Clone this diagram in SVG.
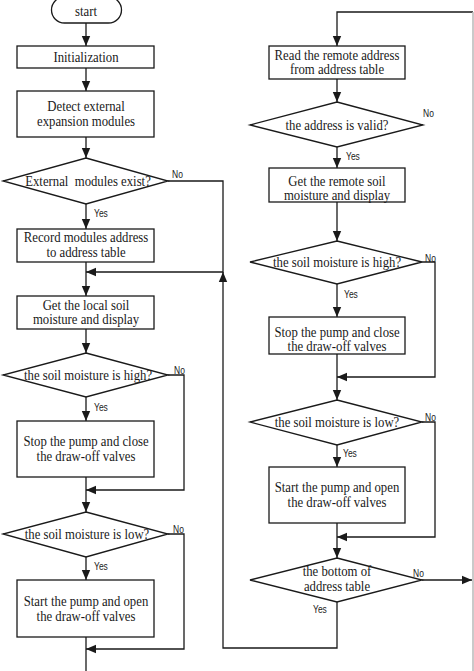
<svg xmlns="http://www.w3.org/2000/svg" width="474" height="671" viewBox="0 0 474 671">
<style>
.n{fill:#fff;stroke:#1a1a1a;stroke-width:1.3}
.c{fill:none;stroke:#1a1a1a;stroke-width:1.3}
.t{font-family:"Liberation Serif","Times New Roman",Times,serif;font-size:15px;fill:#1a1a1a;text-anchor:middle}
.l{font-family:"Liberation Sans",Arial,sans-serif;font-size:10px;fill:#1a1a1a}
</style>
<defs>
<marker id="a" markerUnits="userSpaceOnUse" markerWidth="10" markerHeight="10" viewBox="0 0 10 10" refX="10" refY="5" orient="auto">
<path d="M0,0.8 L10,5 L0,9.2 Z" fill="#1a1a1a"/>
</marker>
</defs>
<rect width="474" height="671" fill="#fff"/>
<g id="connectors">
<path class="c" d="M86 23V46" marker-end="url(#a)"/>
<path class="c" d="M86 68V91" marker-end="url(#a)"/>
<path class="c" d="M86 137V158" marker-end="url(#a)"/>
<path class="c" d="M86 204V229" marker-end="url(#a)"/>
<path class="c" d="M168 181H223V272H86" marker-end="url(#a)"/>
<path class="c" d="M86 262V296" marker-end="url(#a)"/>
<path class="c" d="M337 602V648H223V272" marker-end="url(#a)"/>
<path class="c" d="M86 329V353" marker-end="url(#a)"/>
<path class="c" d="M86 397V421" marker-end="url(#a)"/>
<path class="c" d="M168 375H184V490H86" marker-end="url(#a)"/>
<path class="c" d="M86 477V512" marker-end="url(#a)"/>
<path class="c" d="M86 557V580" marker-end="url(#a)"/>
<path class="c" d="M168 534H184V649H86" marker-end="url(#a)"/>
<path class="c" d="M86 637V671"/>
<path class="c" d="M473 12H337V46" marker-end="url(#a)"/>
<path class="c" d="M337 79V102" marker-end="url(#a)"/>
<path class="c" d="M337 147V168" marker-end="url(#a)"/>
<path class="c" d="M337 202V241" marker-end="url(#a)"/>
<path class="c" d="M337 284V317" marker-end="url(#a)"/>
<path class="c" d="M422 262H435V377H337" marker-end="url(#a)"/>
<path class="c" d="M337 354V400" marker-end="url(#a)"/>
<path class="c" d="M337 445V467" marker-end="url(#a)"/>
<path class="c" d="M422 422H435V537H337" marker-end="url(#a)"/>
<path class="c" d="M337 523V558" marker-end="url(#a)"/>
<path class="c" d="M422 580H472" marker-end="url(#a)"/>
<path d="M473 12V671" fill="none" stroke="#bdbdbd" stroke-width="1.6"/>
<text class="l" transform="translate(172,178) scale(.85,1)">No</text>
<text class="l" transform="translate(94,217) scale(.85,1)">Yes</text>
<text class="l" transform="translate(174,374) scale(.85,1)">No</text>
<text class="l" transform="translate(94,411) scale(.85,1)">Yes</text>
<text class="l" transform="translate(173,533) scale(.85,1)">No</text>
<text class="l" transform="translate(94,570) scale(.85,1)">Yes</text>
<text class="l" transform="translate(423,117) scale(.85,1)">No</text>
<text class="l" transform="translate(346,160) scale(.85,1)">Yes</text>
<text class="l" transform="translate(425,262) scale(.85,1)">No</text>
<text class="l" transform="translate(344,298) scale(.85,1)">Yes</text>
<text class="l" transform="translate(425,421) scale(.85,1)">No</text>
<text class="l" transform="translate(343,457) scale(.85,1)">Yes</text>
<text class="l" transform="translate(413,577) scale(.85,1)">No</text>
<text class="l" transform="translate(313,613) scale(.85,1)">Yes</text>
</g>
<g id="start"><rect class="n" x="51.5" y="-3" width="70" height="26" rx="13"/><text class="t" transform="translate(86,16) scale(.85,1)">start</text></g>
<g id="init"><rect class="n" x="17" y="46" width="137" height="22"/><text class="t" transform="translate(86,62) scale(.85,1)">Initialization</text></g>
<g id="detect"><rect class="n" x="17" y="91" width="137" height="46"/><text class="t" transform="translate(86,111) scale(.85,1)">Detect external</text><text class="t" transform="translate(86,125.5) scale(.85,1)">expansion modules</text></g>
<g id="d-exist"><polygon class="n" points="86,158 168,181 86,204 3,181"/><text class="t" transform="translate(88,186) scale(.85,1)" xml:space="preserve">External  modules exist?</text></g>
<g id="record"><rect class="n" x="17" y="229" width="137" height="33"/><text class="t" transform="translate(86,242) scale(.85,1)">Record modules address</text><text class="t" transform="translate(86,256.5) scale(.85,1)">to address table</text></g>
<g id="local"><rect class="n" x="17" y="296" width="137" height="33"/><text class="t" transform="translate(86,309.5) scale(.85,1)">Get the local soil</text><text class="t" transform="translate(86,324) scale(.85,1)">moisture and display</text></g>
<g id="d-high-l"><polygon class="n" points="86,353 168,375 86,397 3,375"/><text class="t" transform="translate(88,379.5) scale(.85,1)">the soil moisture is high?</text></g>
<g id="stop-l"><rect class="n" x="17" y="421" width="137" height="56"/><text class="t" transform="translate(86,446) scale(.85,1)">Stop the pump and close</text><text class="t" transform="translate(86,460.5) scale(.85,1)">the draw-off valves</text></g>
<g id="d-low-l"><polygon class="n" points="86,512 168,534 86,557 3,534"/><text class="t" transform="translate(87,538.5) scale(.85,1)">the soil moisture is low?</text></g>
<g id="startpump-l"><rect class="n" x="17" y="580" width="137" height="57"/><text class="t" transform="translate(86,606) scale(.85,1)">Start the pump and open</text><text class="t" transform="translate(86,620.5) scale(.85,1)">the draw-off valves</text></g>
<g id="read"><rect class="n" x="269" y="46" width="136" height="33"/><text class="t" transform="translate(337,59.5) scale(.85,1)">Read the remote address</text><text class="t" transform="translate(337,74) scale(.85,1)">from address table</text></g>
<g id="d-valid"><polygon class="n" points="337,102 423,125 337,147 250,125"/><text class="t" transform="translate(337,129.5) scale(.85,1)">the address is valid?</text></g>
<g id="remote"><rect class="n" x="269" y="168" width="136" height="34"/><text class="t" transform="translate(337,185.5) scale(.85,1)">Get the remote soil</text><text class="t" transform="translate(337,200) scale(.85,1)">moisture and display</text></g>
<g id="d-high-r"><polygon class="n" points="337,241 422,262 337,284 250,262"/><text class="t" transform="translate(337,266.5) scale(.85,1)">the soil moisture is high?</text></g>
<g id="stop-r"><rect class="n" x="269" y="317" width="136" height="37"/><text class="t" transform="translate(337,336.5) scale(.85,1)">Stop the pump and close</text><text class="t" transform="translate(337,351) scale(.85,1)">the draw-off valves</text></g>
<g id="d-low-r"><polygon class="n" points="337,400 422,422 337,445 250,422"/><text class="t" transform="translate(337,426.5) scale(.85,1)">the soil moisture is low?</text></g>
<g id="startpump-r"><rect class="n" x="269" y="467" width="136" height="56"/><text class="t" transform="translate(337,492) scale(.85,1)">Start the pump and open</text><text class="t" transform="translate(337,507) scale(.85,1)">the draw-off valves</text></g>
<g id="d-bottom"><polygon class="n" points="337,558 422,580 337,602 250,580"/><text class="t" transform="translate(337,576) scale(.85,1)">the bottom of</text><text class="t" transform="translate(337,591) scale(.85,1)">address table</text></g>
</svg>
